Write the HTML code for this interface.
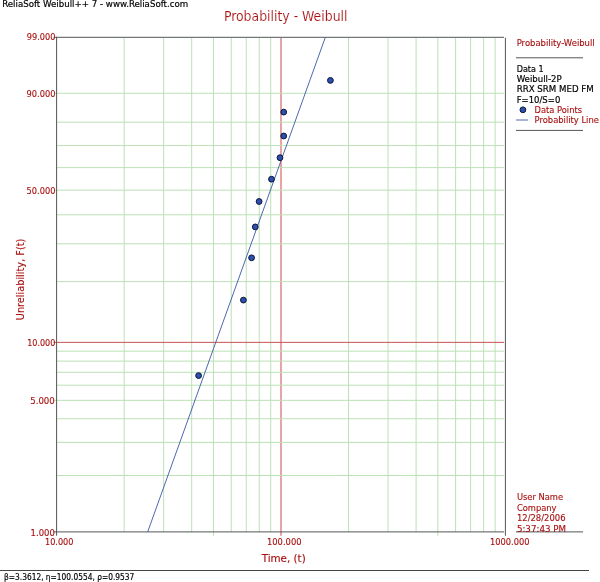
<!DOCTYPE html>
<html lang="en"><head><meta charset="utf-8"><title>Probability - Weibull</title>
<style>html,body{margin:0;padding:0;background:#fff}svg{display:block;will-change:transform}text{font-family:'DejaVu Sans Condensed','Liberation Sans',sans-serif}.r{fill:#a80f0f;stroke:#a80f0f;stroke-width:.12px}.k{fill:#000;stroke:#000;stroke-width:.18px}</style></head><body>
<svg width="600" height="582" viewBox="0 0 600 582">
<g stroke-width="1" fill="none">
<line x1="281.00" y1="38" x2="281.00" y2="535.7" stroke="#e8a4a4" stroke-width="2"/>
<line x1="124.15" y1="38" x2="124.15" y2="532.0" stroke="#bbe1b5"/>
<line x1="163.67" y1="38" x2="163.67" y2="532.0" stroke="#bbe1b5"/>
<line x1="191.70" y1="38" x2="191.70" y2="532.0" stroke="#bbe1b5"/>
<line x1="213.45" y1="38" x2="213.45" y2="535.7" stroke="#bbe1b5"/>
<line x1="231.22" y1="38" x2="231.22" y2="532.0" stroke="#bbe1b5"/>
<line x1="246.24" y1="38" x2="246.24" y2="532.0" stroke="#bbe1b5"/>
<line x1="259.25" y1="38" x2="259.25" y2="532.0" stroke="#bbe1b5"/>
<line x1="270.73" y1="38" x2="270.73" y2="532.0" stroke="#bbe1b5"/>
<line x1="348.55" y1="38" x2="348.55" y2="532.0" stroke="#bbe1b5"/>
<line x1="388.07" y1="38" x2="388.07" y2="532.0" stroke="#bbe1b5"/>
<line x1="416.10" y1="38" x2="416.10" y2="532.0" stroke="#bbe1b5"/>
<line x1="437.85" y1="38" x2="437.85" y2="535.7" stroke="#bbe1b5"/>
<line x1="455.62" y1="38" x2="455.62" y2="532.0" stroke="#bbe1b5"/>
<line x1="470.64" y1="38" x2="470.64" y2="532.0" stroke="#bbe1b5"/>
<line x1="483.65" y1="38" x2="483.65" y2="532.0" stroke="#bbe1b5"/>
<line x1="495.13" y1="38" x2="495.13" y2="532.0" stroke="#bbe1b5"/>
<line x1="57.0" y1="475.54" x2="504" y2="475.54" stroke="#bbe1b5"/>
<line x1="57.0" y1="442.40" x2="504" y2="442.40" stroke="#bbe1b5"/>
<line x1="57.0" y1="418.76" x2="504" y2="418.76" stroke="#bbe1b5"/>
<line x1="53.5" y1="400.33" x2="504" y2="400.33" stroke="#bbe1b5"/>
<line x1="57.0" y1="385.19" x2="504" y2="385.19" stroke="#bbe1b5"/>
<line x1="57.0" y1="372.32" x2="504" y2="372.32" stroke="#bbe1b5"/>
<line x1="57.0" y1="361.11" x2="504" y2="361.11" stroke="#bbe1b5"/>
<line x1="57.0" y1="351.17" x2="504" y2="351.17" stroke="#bbe1b5"/>
<line x1="57.0" y1="281.65" x2="504" y2="281.65" stroke="#bbe1b5"/>
<line x1="57.0" y1="243.79" x2="504" y2="243.79" stroke="#bbe1b5"/>
<line x1="57.0" y1="214.80" x2="504" y2="214.80" stroke="#bbe1b5"/>
<line x1="53.5" y1="190.16" x2="504" y2="190.16" stroke="#bbe1b5"/>
<line x1="57.0" y1="167.63" x2="504" y2="167.63" stroke="#bbe1b5"/>
<line x1="57.0" y1="145.59" x2="504" y2="145.59" stroke="#bbe1b5"/>
<line x1="57.0" y1="122.16" x2="504" y2="122.16" stroke="#bbe1b5"/>
<line x1="53.5" y1="93.25" x2="504" y2="93.25" stroke="#bbe1b5"/>
<line x1="53.5" y1="342.37" x2="504" y2="342.37" stroke="#c95252"/>
<line x1="53.5" y1="37.30" x2="504" y2="37.30" stroke="#525657"/>
<line x1="53.5" y1="531.90" x2="504" y2="531.90" stroke="#525657"/>
<line x1="56.60" y1="36.8" x2="56.60" y2="535.7" stroke="#525657"/>
<line x1="505.40" y1="37.8" x2="505.40" y2="535.7" stroke="#525657"/>
<line x1="516" y1="57.8" x2="583" y2="57.8" stroke="#525657"/>
<line x1="516" y1="130.4" x2="583" y2="130.4" stroke="#525657"/>
<line x1="516" y1="531.9" x2="583" y2="531.9" stroke="#525657"/>
<line x1="0" y1="570.5" x2="589" y2="570.5" stroke="#444"/>
<line x1="516" y1="120" x2="528" y2="120" stroke="#a8b4d8" stroke-width="2"/>
</g>
<line x1="325.33" y1="37.30" x2="147.68" y2="531.90" stroke="#3a57a6" stroke-width="0.9"/>
<g fill="#2d50ae" stroke="#0c1436" stroke-width="1">
<circle cx="198.6" cy="375.6" r="2.9"/>
<circle cx="243.4" cy="300.1" r="2.9"/>
<circle cx="251.6" cy="257.8" r="2.9"/>
<circle cx="255.3" cy="226.9" r="2.9"/>
<circle cx="259.1" cy="201.5" r="2.9"/>
<circle cx="271.5" cy="179.2" r="2.9"/>
<circle cx="280.0" cy="157.7" r="2.9"/>
<circle cx="283.7" cy="136.0" r="2.9"/>
<circle cx="283.7" cy="112.1" r="2.9"/>
<circle cx="330.4" cy="80.4" r="2.9"/>
<circle cx="522.9" cy="109.8" r="2.9"/>
</g>
<text x="2.2" y="6.9" class="k" font-size="9.2" text-anchor="start" textLength="186.0" lengthAdjust="spacingAndGlyphs">ReliaSoft Weibull++ 7 - www.ReliaSoft.com</text>
<text x="223.9" y="20.7" class="r" font-size="13.3" text-anchor="start" textLength="123.6" lengthAdjust="spacingAndGlyphs" style="stroke:#fff;stroke-width:.12px">Probability - Weibull</text>
<text x="26.8" y="40.0" class="r" font-size="9.4" text-anchor="start" textLength="28.7" lengthAdjust="spacingAndGlyphs">99.000</text>
<text x="26.6" y="96.7" class="r" font-size="9.4" text-anchor="start" textLength="28.8" lengthAdjust="spacingAndGlyphs">90.000</text>
<text x="26.6" y="193.6" class="r" font-size="9.4" text-anchor="start" textLength="28.8" lengthAdjust="spacingAndGlyphs">50.000</text>
<text x="27.2" y="345.6" class="r" font-size="9.4" text-anchor="start" textLength="28.2" lengthAdjust="spacingAndGlyphs">10.000</text>
<text x="30.2" y="403.7" class="r" font-size="9.4" text-anchor="start" textLength="24.6" lengthAdjust="spacingAndGlyphs">5.000</text>
<text x="30.6" y="535.9" class="r" font-size="9.4" text-anchor="start" textLength="24.2" lengthAdjust="spacingAndGlyphs">1.000</text>
<text x="45.0" y="545.0" class="r" font-size="9.4" text-anchor="start" textLength="28.4" lengthAdjust="spacingAndGlyphs">10.000</text>
<text x="267.0" y="545.1" class="r" font-size="9.4" text-anchor="start" textLength="34.5" lengthAdjust="spacingAndGlyphs">100.000</text>
<text x="490.0" y="545.0" class="r" font-size="9.4" text-anchor="start" textLength="39.5" lengthAdjust="spacingAndGlyphs">1000.000</text>
<text x="261.7" y="562.0" class="r" font-size="10.8" text-anchor="start" textLength="44.0" lengthAdjust="spacingAndGlyphs">Time, (t)</text>
<text transform="translate(24.4,320.2) rotate(-90)" class="r" font-size="11" textLength="81.5" lengthAdjust="spacingAndGlyphs">Unreliability, F(t)</text>
<text x="516.7" y="45.5" class="r" font-size="9.2" text-anchor="start" textLength="78.0" lengthAdjust="spacingAndGlyphs">Probability-Weibull</text>
<text x="516.7" y="71.5" class="k" font-size="9.2" text-anchor="start" textLength="27.0" lengthAdjust="spacingAndGlyphs">Data 1</text>
<text x="516.7" y="81.5" class="k" font-size="9.2" text-anchor="start" textLength="45.0" lengthAdjust="spacingAndGlyphs">Weibull-2P</text>
<text x="516.7" y="91.6" class="k" font-size="9.2" text-anchor="start" textLength="77.1" lengthAdjust="spacingAndGlyphs">RRX SRM MED FM</text>
<text x="516.7" y="102.7" class="k" font-size="9.2" text-anchor="start" textLength="43.6" lengthAdjust="spacingAndGlyphs">F=10/S=0</text>
<text x="534.6" y="112.5" class="r" font-size="9.2" text-anchor="start" textLength="47.4" lengthAdjust="spacingAndGlyphs">Data Points</text>
<text x="534.6" y="122.6" class="r" font-size="9.2" text-anchor="start" textLength="64.3" lengthAdjust="spacingAndGlyphs">Probability Line</text>
<text x="516.9" y="499.5" class="r" font-size="9.2" text-anchor="start" textLength="46.2" lengthAdjust="spacingAndGlyphs">User Name</text>
<text x="516.9" y="510.5" class="r" font-size="9.2" text-anchor="start" textLength="39.6" lengthAdjust="spacingAndGlyphs">Company</text>
<text x="516.9" y="520.9" class="r" font-size="9.2" text-anchor="start" textLength="48.7" lengthAdjust="spacingAndGlyphs">12/28/2006</text>
<text x="516.9" y="531.6" class="r" font-size="9.2" text-anchor="start" textLength="49.1" lengthAdjust="spacingAndGlyphs">5:37:43 PM</text>
<text x="4.0" y="580.0" class="k" font-size="9.2" text-anchor="start" textLength="130.3" lengthAdjust="spacingAndGlyphs">&#946;=3.3612, &#951;=100.0554, &#961;=0.9537</text>
</svg></body></html>
